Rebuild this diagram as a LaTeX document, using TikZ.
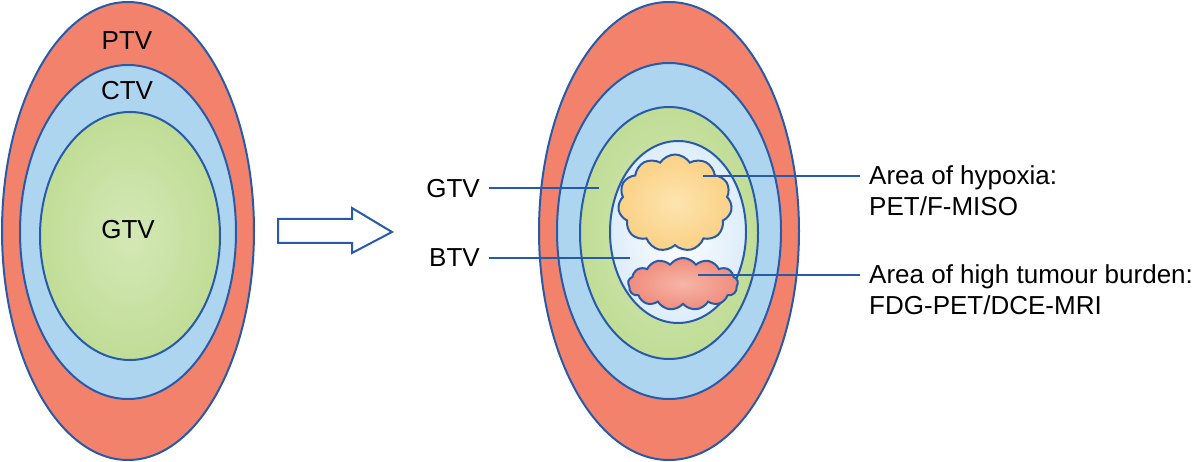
\documentclass[tikz,border=0pt]{standalone}
\usepackage{fontspec}
\setmainfont{Liberation Sans}
\usetikzlibrary{shapes.geometric}
\usetikzlibrary{shapes.symbols}
\usetikzlibrary{positioning}
\definecolor{edge}{RGB}{40,90,170}
\definecolor{ptvDark}{RGB}{242,130,108}
\definecolor{ptvLight}{RGB}{250,188,168}
\definecolor{ctvFill}{RGB}{174,213,240}
\definecolor{gtvIn}{RGB}{212,232,182}
\definecolor{gtvOut}{RGB}{172,210,118}
\definecolor{btvIn}{RGB}{255,255,255}
\definecolor{btvOut}{RGB}{186,218,244}
\definecolor{hypIn}{RGB}{253,228,175}
\definecolor{hypOut}{RGB}{249,190,92}
\definecolor{burIn}{RGB}{246,182,166}
\definecolor{burOut}{RGB}{233,98,86}
\pgfdeclareradialshading{gtvshade}{\pgfpoint{0bp}{0bp}}{color(0bp)=(gtvIn); color(50bp)=(gtvOut)}
\pgfdeclareradialshading{btvshade}{\pgfpoint{0bp}{0bp}}{color(0bp)=(btvIn); color(50bp)=(btvOut)}
\pgfdeclareradialshading{hypshade}{\pgfpoint{0bp}{0bp}}{color(0bp)=(hypIn); color(50bp)=(hypOut)}
\pgfdeclareradialshading{burshade}{\pgfpoint{0bp}{0bp}}{color(0bp)=(burIn); color(50bp)=(burOut)}
\tikzset{
  vol/.style = {ellipse, draw=edge, line width=2pt, inner sep=0pt},
  ptvvol/.style = {vol, top color=ptvDark, middle color=ptvLight, bottom color=ptvDark},
  ctvvol/.style = {vol, fill=ctvFill},
  gtvvol/.style = {vol, shading=gtvshade},
  btvvol/.style = {vol, shading=btvshade},
  blob/.style = {cloud, cloud ignores aspect, draw=edge, line width=2pt, inner sep=0pt},
  lbl/.style = {inner xsep=9pt, inner ysep=0pt, font=\fontsize{26}{31}\selectfont},
  lead/.style = {draw=edge, line width=1.7pt},
}

\begin{document}
\begin{tikzpicture}[x=1pt, y=-1pt]
\useasboundingbox (0,0) rectangle (1200,462);

% left: planning volumes
\node [ptvvol, minimum width=252, minimum height=458] (ptvL) at (128,231) {};
\node [ctvvol, minimum width=216, minimum height=334] (ctvL) at (128,232) {};
\node [gtvvol, minimum width=180, minimum height=248] (gtvL) at (130,236) {};
\node [lbl, anchor=base] (ptvT) at (127,50) {PTV};
\node [lbl, anchor=base] (ctvT) at (127,100) {CTV};
\node [lbl, anchor=base] (gtvT) at (128,239) {GTV};

% arrow
\draw [edge, line width=2pt] (278,219) -- (352,219) -- (352,208) -- (392,232)
  -- (352,253) -- (352,243) -- (278,243) -- cycle;

% right: with biological target volume
\node [ptvvol, minimum width=260, minimum height=458] (ptvR) at (669,231) {};
\node [ctvvol, minimum width=224, minimum height=336] (ctvR) at (669,231) {};
\node [gtvvol, minimum width=178, minimum height=252] (gtvR) at (669,233) {};
\node [btvvol, minimum width=136, minimum height=182] (btvR) at (678,232) {};
\node [blob, shading=hypshade, cloud puffs=11, cloud puff arc=115,
  minimum width=114, minimum height=97] (hypC) at (675,203) {};
\node [blob, shading=burshade, cloud puffs=13, cloud puff arc=110,
  minimum width=110, minimum height=52] (burC) at (683,284) {};

\coordinate (gtvP) at (599,188);
\coordinate (btvP) at (630,258);
\coordinate (hypP) at (703,176);
\coordinate (burP) at (698,275);

\node [lbl, anchor=base east] (gtvLbl) at (489,198) {GTV};
\node [lbl, anchor=base east] (btvLbl) at (489,267) {BTV};
% base of a two-line node is its last line
\node [lbl, anchor=base west, align=left] (hypLbl) at (860,216) {Area of hypoxia:\\PET/F-MISO};
\node [lbl, anchor=base west, align=left] (burLbl) at (860,315) {Area of high tumour burden:\\FDG-PET/DCE-MRI};

\draw [lead] (gtvLbl.east |- gtvP) -- (gtvP);
\draw [lead] (btvLbl.east |- btvP) -- (btvP);
\draw [lead] (hypP) -- (hypP -| hypLbl.west);
\draw [lead] (burP) -- (burP -| burLbl.west);
\end{tikzpicture}
\end{document}
